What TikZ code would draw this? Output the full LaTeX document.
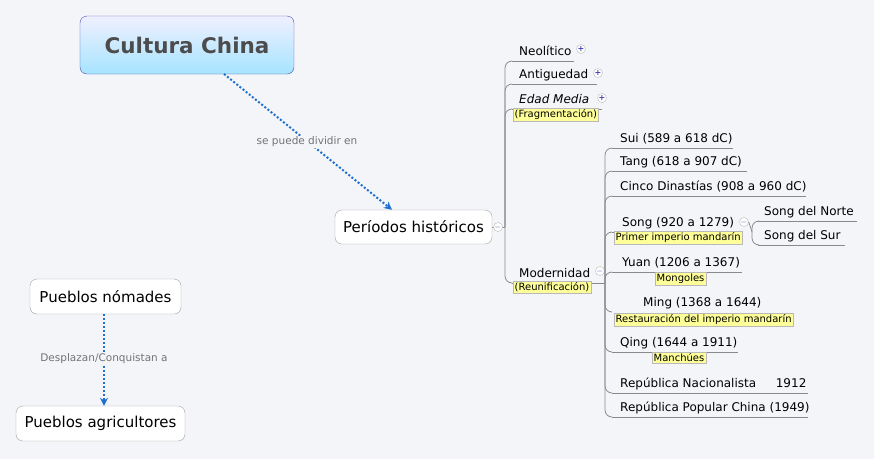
\documentclass[tikz,border=0pt]{standalone}
\usepackage{fontspec}
\setmainfont{DejaVu Sans}
\usetikzlibrary{arrows.meta}
\definecolor{bg}{HTML}{F3F5F9}
\definecolor{ln}{HTML}{8A8A8A}
\definecolor{dotb}{HTML}{1E6FD0}
\definecolor{nt}{HTML}{FFFF99}
\begin{document}
\begin{tikzpicture}[x=1pt,y=-1pt,
 item/.style={anchor=base west,inner sep=0pt,font=\fontsize{12}{13}\selectfont},
 note/.style={anchor=north west,fill=nt,draw=ln!60,inner sep=1.5pt,font=\fontsize{10}{11}\selectfont},
 uline/.style={draw=ln,line width=0.8pt},
 br/.style={draw=ln,line width=0.8pt,rounded corners=7pt},
 topic/.style={draw=ln!80,fill=white,rounded corners=7pt,font=\fontsize{15}{17}\selectfont,inner sep=0pt},
 rel/.style={draw=dotb,line width=2pt,dotted,-{Stealth[length=8pt,width=8pt]}},
 rlab/.style={fill=bg,font=\fontsize{10.5}{12}\selectfont,text=gray!90!black,inner sep=1pt},
 pm/.style={circle,draw=ln!60,fill=white,inner sep=0pt,minimum size=9pt,font=\bfseries\fontsize{8}{8}\selectfont,text=blue!50!gray}]
\fill[bg] (0,0) rectangle (874,459);
\useasboundingbox (0,0) rectangle (874,459);
% main topic
\node[draw=blue!40!gray,rounded corners=7pt,top color=blue!6,bottom color=blue!30!cyan!35,minimum width=214pt,minimum height=58pt,font=\bfseries\fontsize{21.5}{24}\selectfont,text=black!70] (cc) at (187,45) {Cultura China};
\node[topic,minimum width=157pt,minimum height=34pt] (ph) at (413.5,227) {Períodos históricos};
\node[topic,minimum width=151pt,minimum height=35pt] (pn) at (105.5,296.5) {Pueblos nómades};
\node[topic,minimum width=169pt,minimum height=35pt] (pa) at (100.5,423.5) {Pueblos agricultores};
\draw[rel] (224,74) -- (ph.north west -| 392,210);
\node[rlab] (l1) at (307,142) {se puede dividir en};
\draw[rel] (pn.south -| 104,0) -- (pa.north -| 104,0);
\node[rlab] (l2) at (104,359) {Desplazan/Conquistan a};
% first level
\coordinate (t1) at (505,227);
\draw[uline] (ph.east) -- (t1);
\node[pm] (pm1) at (498,227) {$-$};
\foreach \n/\t/\y/\l in {neo/Neolítico/61/62,ant/Antiguedad/84/85,edm/{\itshape Edad Media}/109/90,mod/Modernidad/283/93}{
 \coordinate (\n) at (512,\y);
 \node[item] (\n t) at (519,\y-6) {\t};
 \draw[br] (t1) |- (\n);
 \draw[uline] (\n) -- ++(\l,0);}
\node[pm] at (581,49) {+};
\node[pm] at (598,73) {+};
\node[pm] at (602,98) {+};
\node[pm] at (600,271) {$-$};
\node[note] (nf) at (513,108) {(Fragmentación)};
\node[note] (nr) at (513,281) {(Reunificación)};
% second level
\coordinate (t2) at (605,283);
\foreach \n/\t/\x/\y/\l in {sui/{Sui (589 a 618 dC)}/620/148/121,tan/{Tang (618 a 907 dC)}/620/171/135,cin/{Cinco Dinastías (908 a 960 dC)}/620/196/194,son/{Song (920 a 1279)}/622/232/118,yua/{Yuan (1206 a 1367)}/622/272/130,min/{Ming (1368 a 1644)}/643/312/0,qin/{Qing (1644 a 1911)}/620/352/126,rn/{República Nacionalista \hspace{12pt} 1912}/620/393/196,rp/{República Popular China (1949)}/620/417/196}{
 \coordinate (\n) at (612,\y);
 \node[item] (\n t) at (\x,\y-6) {\t};
 \draw[br] (t2) |- (\n);
 \draw[uline] (\n) -- ++(\l,0);}
\node[note] (n1) at (614,231) {Primer imperio mandarín};
\node[note] (n2) at (655,272) {Mongoles};
\node[note] (n3) at (614,313) {Restauración del imperio mandarín};
\node[note] (n4) at (652,352) {Manchúes};
\node[pm] (pm3) at (744,222) {$-$};
% third level
\coordinate (t3) at (752,232);
\draw[uline] (pm3.east) -- (t3);
\coordinate (sn) at (758,221);
\coordinate (ss) at (758,245);
\node[item] (snt) at (764,215) {Song del Norte};
\node[item] (sst) at (764,239) {Song del Sur};
\draw[br] (t3) |- (sn);
\draw[br] (t3) |- (ss);
\draw[uline] (sn) -- ++(99,0);
\draw[uline] (ss) -- ++(87,0);
\end{tikzpicture}
\end{document}
